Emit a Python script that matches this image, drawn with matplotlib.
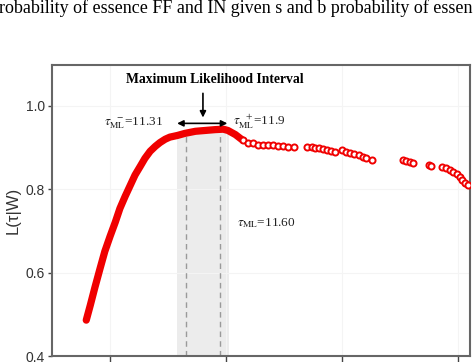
import numpy as np
import matplotlib.pyplot as plt

plt.rcParams['mathtext.fontset'] = 'stix'
plt.rcParams['font.family'] = ['Liberation Sans', 'DejaVu Sans']

# dense part of the likelihood curve (reads as a solid thick line)
tau_dense = [9.59, 9.66, 9.74, 9.83, 9.91, 10.0, 10.09, 10.17, 10.26, 10.35, 10.43,
             10.52, 10.60, 10.69, 10.78, 10.86, 10.95, 11.03, 11.16, 11.29, 11.47,
             11.64, 11.81, 11.95, 12.03, 12.16, 12.29]
lik_dense = [0.486, 0.522, 0.565, 0.611, 0.651, 0.687, 0.721, 0.754, 0.783, 0.810, 0.834,
             0.855, 0.874, 0.891, 0.903, 0.912, 0.920, 0.925, 0.929, 0.934, 0.939,
             0.941, 0.943, 0.944, 0.941, 0.931, 0.917]

# sparser part, drawn as open circles
tau_pts = [12.29, 12.38, 12.47, 12.55, 12.64, 12.72, 12.81, 12.90, 12.98, 13.07, 13.16,
           13.40, 13.47, 13.53, 13.60, 13.67, 13.74, 13.81, 13.88,
           14.00, 14.07, 14.14, 14.21, 14.28, 14.35, 14.41, 14.52,
           15.05, 15.10, 15.16, 15.21,
           15.50, 15.53,
           15.72, 15.79, 15.86, 15.91, 15.97, 16.02, 16.07, 16.12, 16.17]
lik_pts = [0.917, 0.912, 0.910, 0.907, 0.906, 0.905, 0.905, 0.904, 0.903, 0.902, 0.901,
           0.902, 0.901, 0.900, 0.898, 0.896, 0.893, 0.891, 0.889,
           0.893, 0.889, 0.886, 0.884, 0.881, 0.878, 0.874, 0.869,
           0.869, 0.867, 0.865, 0.862,
           0.857, 0.855,
           0.853, 0.850, 0.846, 0.841, 0.836, 0.829, 0.822, 0.814, 0.810]

tau_ml = 11.60
tau_lo, tau_hi = 11.31, 11.9
band = (11.155, 12.05)
band_top = 0.935

xticks = [10, 12, 14, 16]
yticks = [0.4, 0.6, 0.8, 1.0]

fig = plt.figure(figsize=(4.74, 3.62), dpi=100)
ax = fig.add_axes([52 / 474, 6 / 362, 418 / 474, 291 / 362])

red = '#f00000'

ax.fill_between(band, 0.4, band_top, color='#ececec', lw=0, zorder=0)
ax.vlines([tau_lo, tau_hi], 0.4, band_top, colors='#9a9a9a', linestyles=(0, (4, 3)), lw=1, zorder=1)

ax.plot(tau_dense, lik_dense, color=red, lw=5.2, solid_capstyle='round', zorder=3)
ax.plot(tau_pts, lik_pts, ls='none', marker='o', ms=4.4, mfc='white', mec=red, mew=1.4, zorder=3)

# interval arrows
ax.annotate('', xy=(band[0], 0.958), xytext=(12.02, 0.958),
            arrowprops=dict(arrowstyle='<|-|>', color='black', lw=1.2, mutation_scale=9, shrinkA=0, shrinkB=0))
ax.annotate('', xy=(tau_ml, 0.972), xytext=(tau_ml, 1.03),
            arrowprops=dict(arrowstyle='-|>', color='black', lw=1.2, mutation_scale=9, shrinkA=0, shrinkB=0))

serif = 'Liberation Serif'
ax.text(11.81, 1.063, 'Maximum Likelihood Interval', ha='center', va='center',
        fontsize=9.8, fontweight='bold', family=serif)
ax.text(9.9, 0.958, r'$\tau_{\mathrm{ML}}^{\ \ -}$=' + f'{tau_lo}', ha='left', va='center',
        fontsize=9.5, family=serif, color='#222222')
ax.text(12.12, 0.962, r'$\tau_{\mathrm{ML}}^{\ \ +}$=' + f'{tau_hi}', ha='left', va='center',
        fontsize=9.5, family=serif, color='#222222')
ax.text(12.18, 0.719, r'$\tau_{\mathrm{ML}}$=' + f'{tau_ml:.2f}', ha='left', va='center',
        fontsize=9.5, family=serif, color='#222222')

ax.set_xlim(9.0, 16.2)
ax.set_ylim(0.4, 1.098)
ax.set_xticks(xticks)
ax.set_yticks(yticks)
ax.set_yticklabels([f'{v:.1f}' for v in yticks])
ax.tick_params(axis='x', labelbottom=False, length=4, width=1, color='#444444')
ax.tick_params(axis='y', length=3, width=1, color='#444444', labelsize=10, labelcolor='#333333', pad=2)
ax.grid(True, color='#f4f4f4', lw=0.8)
ax.set_axisbelow(True)
for side in ['left', 'bottom', 'top', 'right']:
    ax.spines[side].set_color('#666666')
    ax.spines[side].set_linewidth(1.5)

ax.set_ylabel('L(τ|W)', fontsize=12, color='#333333', labelpad=4)

fig.text(-0.002, 1 - 13 / 362, 'robability of essence FF and IN given s and b probability of essen',
         ha='left', va='baseline', fontsize=13, family=serif)

fig.savefig('out.png', dpi=100)
